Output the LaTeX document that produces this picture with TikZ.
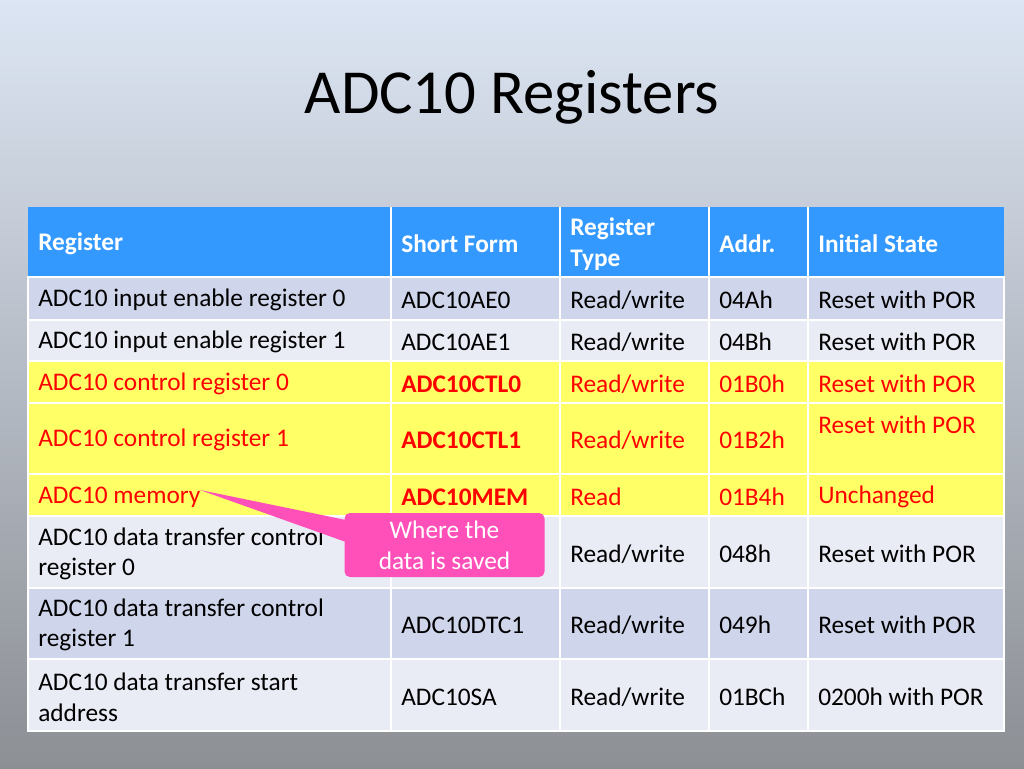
\documentclass[tikz,border=0pt]{standalone}
\usepackage{fontspec}
\setmainfont{Carlito}
\usetikzlibrary{positioning}
\definecolor{bgtop}{HTML}{DCE5F3}
\definecolor{bgbot}{HTML}{8C8F94}
\definecolor{headblue}{HTML}{3399FF}
\definecolor{rowdark}{HTML}{CFD5EA}
\definecolor{rowlight}{HTML}{E9EBF5}
\definecolor{rowyel}{HTML}{FFFF66}
\definecolor{callpink}{HTML}{FF4FB8}
\tikzset{
	cell/.style={draw=white, line width=1.5pt},
	txt/.style={anchor=west, font=\fontsize{19}{23}\selectfont, align=left, inner sep=0pt, yshift=-1.5pt},
	hot/.style={txt, text=red},
	hotb/.style={hot, font=\fontsize{19}{23}\selectfont\bfseries}
}
\begin{document}
\begin{tikzpicture}[x=0.75pt, y=-0.75pt]
	\shade [top color=bgtop, bottom color=bgbot] (0,0) rectangle (1024,768);
	\useasboundingbox (0,0) rectangle (1024,768);

	\node (title) at (512,97) {\fontsize{47}{50}\selectfont ADC10 Registers};

	% header
	\fill [headblue] (28,207) rectangle (1004,277);
	\foreach \x in {391,560,709,808}
		\draw [white, line width=1.5pt] (\x,207) -- (\x,277);
	\foreach \x/\t [count=\i] in {38/Register, 401/Short Form, 570/{Register\\Type}, 719/Addr., 818/Initial State}
		\node [txt, text=white, font=\fontsize{19}{23}\selectfont\bfseries] (head\i) at (\x,242) {\t};

	% body rows
	\foreach \top/\bot/\col in {277/320/rowdark, 320/361/rowlight, 361/403/rowyel, 403/474/rowyel,
		474/516/rowyel, 516/588/rowlight, 588/659/rowdark, 659/731/rowlight}
		\foreach \l/\r in {28/391, 391/560, 560/709, 709/808, 808/1004}
			\filldraw [cell, fill=\col] (\l,\top) rectangle (\r,\bot);

	\node [txt] (r1a) at (38,298) {ADC10 input enable register 0};
	\node [txt] (r1b) at (401,298) {ADC10AE0};
	\node [txt] (r1c) at (570,298) {Read/write};
	\node [txt] (r1d) at (719,298) {04Ah};
	\node [txt] (r1e) at (818,298) {Reset with POR};

	\node [txt] (r2a) at (38,340) {ADC10 input enable register 1};
	\node [txt] (r2b) at (401,340) {ADC10AE1};
	\node [txt] (r2c) at (570,340) {Read/write};
	\node [txt] (r2d) at (719,340) {04Bh};
	\node [txt] (r2e) at (818,340) {Reset with POR};

	\node [hot] (r3a) at (38,382) {ADC10 control register 0};
	\node [hotb] (r3b) at (401,382) {ADC10CTL0};
	\node [hot] (r3c) at (570,382) {Read/write};
	\node [hot] (r3d) at (719,382) {01B0h};
	\node [hot] (r3e) at (818,382) {Reset with POR};

	\node [hot] (r4a) at (38,438) {ADC10 control register 1};
	\node [hotb] (r4b) at (401,438) {ADC10CTL1};
	\node [hot] (r4c) at (570,438) {Read/write};
	\node [hot] (r4d) at (719,438) {01B2h};
	\node [hot] (r4e) at (818,423) {Reset with POR};

	\node [hot] (r5a) at (38,495) {ADC10 memory};
	\node [hotb] (r5b) at (401,495) {ADC10MEM};
	\node [hot] (r5c) at (570,495) {Read};
	\node [hot] (r5d) at (719,495) {01B4h};
	\node [hot] (r5e) at (818,495) {Unchanged};

	\node [txt] (r6a) at (38,552) {ADC10 data transfer control\\register 0};
	\node [txt] (r6c) at (570,552) {Read/write};
	\node [txt] (r6d) at (719,552) {048h};
	\node [txt] (r6e) at (818,552) {Reset with POR};

	\node [txt] (r7a) at (38,623) {ADC10 data transfer control\\register 1};
	\node [txt] (r7b) at (401,623) {ADC10DTC1};
	\node [txt] (r7c) at (570,623) {Read/write};
	\node [txt] (r7d) at (719,623) {049h};
	\node [txt] (r7e) at (818,623) {Reset with POR};

	\node [txt] (r8a) at (38,695) {ADC10 data transfer start\\address};
	\node [txt] (r8b) at (401,695) {ADC10SA};
	\node [txt] (r8c) at (570,695) {Read/write};
	\node [txt] (r8d) at (719,695) {01BCh};
	\node [txt] (r8e) at (818,695) {0200h with POR};

	% callout
	\coordinate (tip) at (200,490);
	\fill [callpink] (tip) -- (346,520) -- (346,542) -- cycle;
	\node [fill=callpink, rounded corners=4pt, minimum width=150pt, minimum height=48pt,
		text=white, align=center, inner sep=0pt, font=\fontsize{19}{23}\selectfont]
		(note) at (444.5,545) {Where the\\data is saved};
\end{tikzpicture}
\end{document}
